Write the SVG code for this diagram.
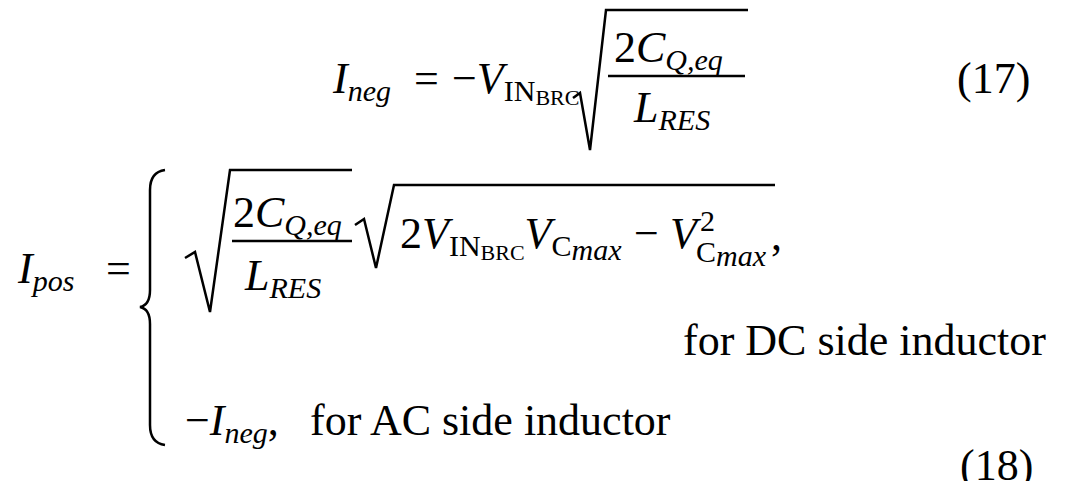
<svg xmlns="http://www.w3.org/2000/svg" width="1079" height="481" viewBox="0 0 1079 481">
<style>
text{font-family:"Liberation Serif","Times New Roman",serif;fill:#000}
.i{font-style:italic}
.m{font-size:44px}
.s{font-size:30px}
.t{font-size:22px}
.ln{stroke:#000;stroke-width:2.5;fill:none}
</style>
<rect width="1079" height="481" fill="#fff"/>
<g id="eq17">
<text class="m" x="333" y="93"><tspan class="i">I</tspan><tspan class="s i" dy="8">neg</tspan><tspan dy="-8" x="414">=</tspan><tspan x="452">−</tspan><tspan class="i">V</tspan><tspan class="s" dy="8">IN</tspan><tspan class="t" dy="4">BRC</tspan></text>
<path class="ln" d="M573,98 L580,93 L590,150 L606,10 L748,10"/>
<text class="m" x="614" y="62">2<tspan class="i">C</tspan><tspan class="s i" dy="8">Q,eq</tspan></text>
<line class="ln" x1="608" y1="76" x2="745" y2="76"/>
<text class="m" x="634" y="122"><tspan class="i">L</tspan><tspan class="s i" dy="8">RES</tspan></text>
<text class="m" x="957" y="93">(17)</text>
</g>
<g id="eq18">
<text class="m" x="18" y="283"><tspan class="i">I</tspan><tspan class="s i" dy="8">pos</tspan><tspan dy="-8" x="106">=</tspan></text>
<path class="ln" d="M165,170 Q150,172 150,190 L150,290 Q150,305 140,307 Q150,309 150,324 L150,425 Q150,443 165,445"/>
<path class="ln" d="M185,258 L195,252 L210,312 L230,170 L352,170"/>
<text class="m" x="233" y="227">2<tspan class="i">C</tspan><tspan class="s i" dy="8">Q,eq</tspan></text>
<line class="ln" x1="232" y1="241" x2="352" y2="241"/>
<text class="m" x="245" y="290"><tspan class="i">L</tspan><tspan class="s i" dy="8">RES</tspan></text>
<path class="ln" d="M355,225 L364,219 L376,268 L394,185 L775,185"/>
<text class="m" x="400" y="248">2<tspan class="i">V</tspan><tspan class="s" dy="8">IN</tspan><tspan class="t" dy="4">BRC</tspan><tspan class="i" dy="-12">V</tspan><tspan class="s" dy="8">C</tspan><tspan class="s i" dy="4">max</tspan><tspan dy="-12" x="634">−</tspan><tspan class="i" x="670">V</tspan></text>
<text class="s" x="700" y="231">2</text>
<text class="s" x="696" y="262">C<tspan class="i" dy="4">max</tspan></text>
<text class="m" x="771" y="250">,</text>
<text class="m" x="683" y="355">for DC side inductor</text>
<text class="m" x="185" y="435">−<tspan class="i">I</tspan><tspan class="s i" dy="8">neg</tspan><tspan dy="-8">,</tspan><tspan x="310">for AC side inductor</tspan></text>
<text class="m" x="960" y="480">(18)</text>
</g>
</svg>
